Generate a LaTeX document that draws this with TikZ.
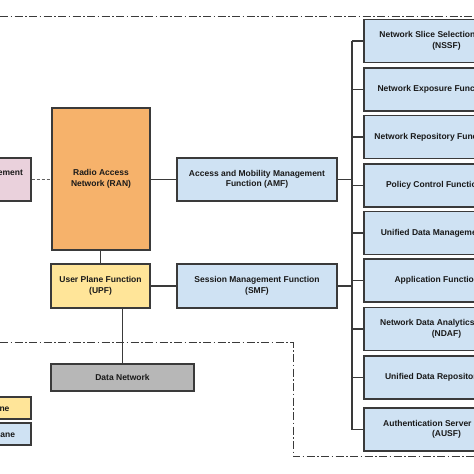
\documentclass[tikz,border=0pt]{standalone}
\usepackage{fontspec}
\setmainfont{Liberation Sans}
\definecolor{ranfill}{HTML}{F6B26B}
\definecolor{upfill}{HTML}{FFE599}
\definecolor{cpfill}{HTML}{CFE2F3}
\definecolor{mgmtfill}{HTML}{EAD1DC}
\definecolor{dnfill}{HTML}{B7B7B7}
\definecolor{edge}{HTML}{3A3A3A}
\begin{document}
\begin{tikzpicture}[x=1pt, y=-1pt,
    nf/.style={draw=edge, line width=1.1pt, inner sep=0pt, align=center, text=black!90,
               font=\bfseries\fontsize{8.5}{10.5}\selectfont},
    cp/.style={nf, fill=cpfill, minimum width=165pt, minimum height=43pt},
    wire/.style={draw=edge, line width=1.1pt},
    border/.style={draw=edge, line width=1pt, dash pattern=on 8pt off 2.5pt on 1.5pt off 2.5pt}]
    \useasboundingbox (0,0) rectangle (474,474);
    \clip (0,0) rectangle (474,474);
    \coordinate (tl) at (0,16);
    \coordinate (tr) at (474,16);
    \coordinate (ml) at (0,342.5);
    \coordinate (mc) at (293,342.5);
    \coordinate (bc) at (293,456.5);
    \coordinate (br) at (474,456.5);
    \coordinate (bus) at (352,0);
    \draw [border] (tl) -- (tr);
    \draw [border] (ml) -- (mc) -- (bc) -- (br);
    \node [nf, fill=mgmtfill, minimum width=68pt, minimum height=43pt] (mgmt) at (-3,179.5) {Management\\\strut};
    \node [nf, fill=ranfill, minimum width=98pt, minimum height=142pt] (ran) at (101,179) {Radio Access\\Network (RAN)};
    \node [nf, fill=cpfill, minimum width=160pt, minimum height=43pt] (amf) at (257,179.5) {Access and Mobility Management\\Function (AMF)};
    \node [nf, fill=upfill, minimum width=99pt, minimum height=44pt] (upf) at (100.5,286) {User Plane Function\\(UPF)};
    \node [nf, fill=cpfill, minimum width=160pt, minimum height=44pt] (smf) at (257,286) {Session Management Function\\(SMF)};
    \node [nf, fill=dnfill, minimum width=143pt, minimum height=27pt] (dn) at (122.5,377.5) {Data Network};
    \node [nf, fill=upfill, minimum width=87pt, minimum height=22pt] (legup) at (-12.5,408) {User Plane};
    \node [nf, fill=cpfill, minimum width=87pt, minimum height=22pt] (legcp) at (-12.5,434) {Control Plane};
    \node [cp] (nssf) at (446.5,41) {Network Slice Selection Function\\(NSSF)};
    \node [cp] (nef)  at (446.5,89.5) {Network Exposure Function (NEF)};
    \node [cp] (nrf)  at (446.5,137) {Network Repository Function (NRF)};
    \node [cp] (pcf)  at (446.5,185.5) {Policy Control Function (PCF)};
    \node [cp] (udm)  at (446.5,233) {Unified Data Management (UDM)};
    \node [cp] (af)   at (446.5,280.5) {Application Function (AF)};
    \node [cp] (ndaf) at (446.5,329) {Network Data Analytics Function\\(NDAF)};
    \node [cp] (udr)  at (446.5,377.5) {Unified Data Repository (UDR)};
    \node [cp] (ausf) at (446.5,429.5) {Authentication Server Function\\(AUSF)};
    \draw [densely dashed, draw=edge!80, line width=0.8pt] (mgmt.east) -- (ran.west |- mgmt.east);
    \draw [wire] (ran.east |- amf.west) -- (amf.west);
    \draw [wire] (upf.north |- ran.south) -- (upf.north);
    \draw [wire] (upf.east |- smf.west) -- (smf.west);
    \draw [wire] (dn.north) -- (dn.north |- upf.south);
    \draw [wire] (bus |- nssf.west) -- (bus |- ausf.west);
    \draw [wire] (amf.east) -- (amf.east -| bus);
    \draw [wire] (smf.east) -- (smf.east -| bus);
    \draw [wire] (nssf.west) -- (nssf.west -| bus);
    \draw [wire] (nef.west) -- (nef.west -| bus);
    \draw [wire] (nrf.west) -- (nrf.west -| bus);
    \draw [wire] (pcf.west) -- (pcf.west -| bus);
    \draw [wire] (udm.west) -- (udm.west -| bus);
    \draw [wire] (af.west) -- (af.west -| bus);
    \draw [wire] (ndaf.west) -- (ndaf.west -| bus);
    \draw [wire] (udr.west) -- (udr.west -| bus);
    \draw [wire] (ausf.west) -- (ausf.west -| bus);
\end{tikzpicture}
\end{document}
